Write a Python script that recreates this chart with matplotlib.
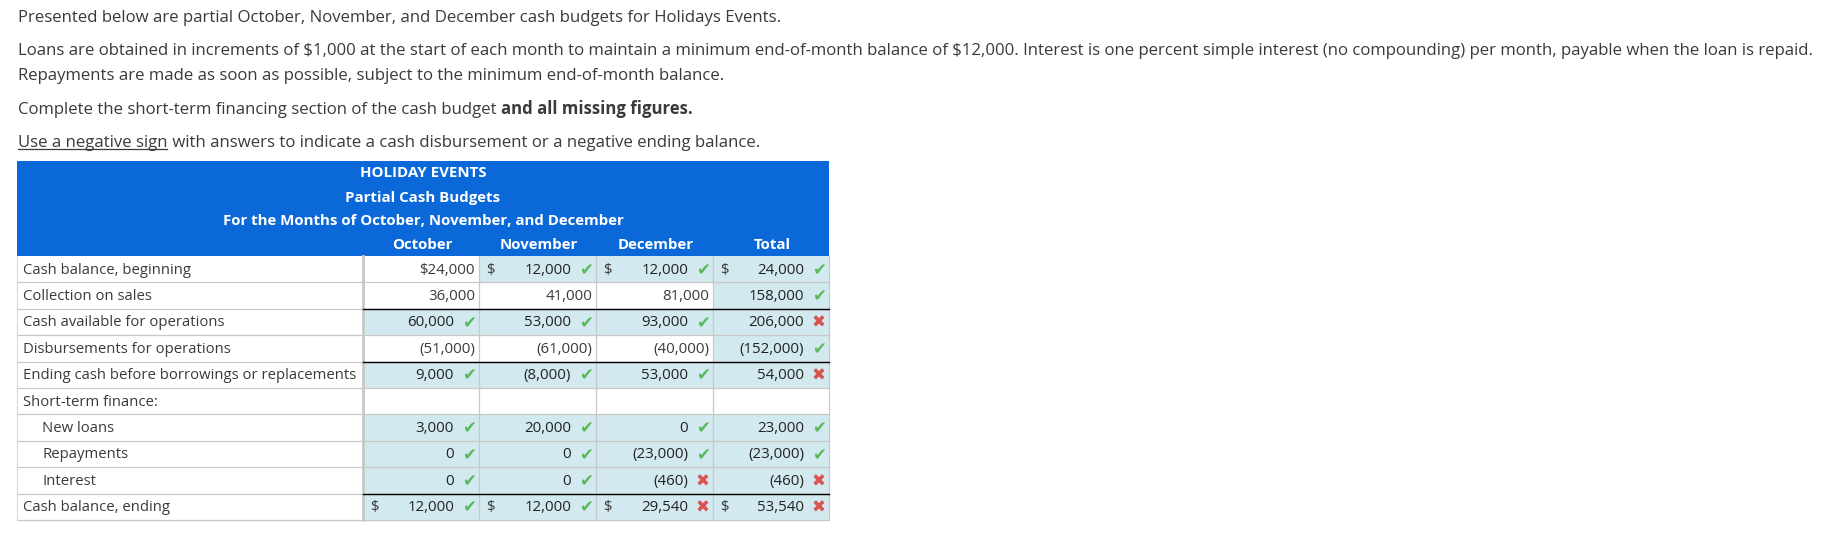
import matplotlib.pyplot as plt
from matplotlib.patches import Rectangle

plt.rcParams['font.family'] = ['Open Sans', 'DejaVu Sans']

labels = ["Cash balance, beginning", "Collection on sales", "Cash available for operations",
          "Disbursements for operations", "Ending cash before borrowings or replacements",
          "Short-term finance:", "New loans", "Repayments", "Interest", "Cash balance, ending"]
months = ["October", "November", "December", "Total"]
october = ["$24,000", "36,000", "60,000", "(51,000)", "9,000", "", "3,000", "0", "0", "12,000"]
november = ["12,000", "41,000", "53,000", "(61,000)", "(8,000)", "", "20,000", "0", "0", "12,000"]
december = ["12,000", "81,000", "93,000", "(40,000)", "53,000", "", "0", "(23,000)", "(460)", "29,540"]
total = ["24,000", "158,000", "206,000", "(152,000)", "54,000", "", "23,000", "(23,000)", "(460)", "53,540"]
# y = right, x = wrong, blank = given figure
oct_mark = ["", "", "y", "", "y", "", "y", "y", "y", "y"]
nov_mark = ["y", "", "y", "", "y", "", "y", "y", "y", "y"]
dec_mark = ["y", "", "y", "", "y", "", "y", "y", "x", "x"]
tot_mark = ["y", "y", "x", "y", "x", "", "y", "y", "x", "x"]
dollars = [[False, True, True, True]] + [[False] * 4] * 8 + [[True] * 4]
indented = ["New loans", "Repayments", "Interest"]

col_edges = [363, 479, 596, 713, 829]
row_h = 26.4
top = 256
left = 17

fig = plt.figure(figsize=(18.29, 5.55), dpi=100)
ax = fig.add_axes([0, 0, 1, 1])
ax.set_xlim(0, 1829)
ax.set_ylim(555, 0)
ax.axis("off")

dark = "#3a3a3a"
size = 12.06
tsize = 10.85


def after(t):
    # x where the next run of text starts on the same line
    return t.get_window_extent(fig.canvas.get_renderer()).x1


ax.text(18, 22, "Presented below are partial October, November, and December cash budgets for Holidays Events.", fontsize=size, color=dark, va="baseline")
ax.text(18, 55, r"Loans are obtained in increments of \$1,000 at the start of each month to maintain a minimum end-of-month balance of \$12,000. Interest is one percent simple interest (no compounding) per month, payable when the loan is repaid.", fontsize=size, color=dark, va="baseline")
ax.text(18, 79.5, "Repayments are made as soon as possible, subject to the minimum end-of-month balance.", fontsize=size, color=dark, va="baseline")
t = ax.text(18, 113.5, "Complete the short-term financing section of the cash budget ", fontsize=size, color=dark, va="baseline")
ax.text(after(t), 113.5, "and all missing figures.", fontsize=size, color=dark, fontweight="bold", va="baseline")
t = ax.text(18, 147, "Use a negative sign", fontsize=size, color=dark, va="baseline")
ax.plot([18, 167], [148.5, 148.5], color=dark, lw=0.9)
ax.text(after(t), 147, " with answers to indicate a cash disbursement or a negative ending balance.", fontsize=size, color=dark, va="baseline")

# header block
ax.add_patch(Rectangle((left, 161), col_edges[-1] - left, top - 161, color="#0b68d9", lw=0))
for y, s in zip([173, 198, 221], ["HOLIDAY EVENTS", "Partial Cash Budgets", "For the Months of October, November, and December"]):
    ax.text(423, y, s, color="white", fontsize=tsize, fontweight="bold", ha="center", va="center")
for i, m in enumerate(months):
    ax.text((col_edges[i] + col_edges[i + 1]) / 2 + 1, 245, m, color="white", fontsize=tsize, fontweight="bold", ha="center", va="center")

columns = [october, november, december, total]
marks = [oct_mark, nov_mark, dec_mark, tot_mark]
for r, label in enumerate(labels):
    y0 = top + r * row_h
    ymid = y0 + row_h / 2 + 1
    x = 42 if label in indented else 23
    ax.text(x, ymid, label, fontsize=tsize - 0.1, color=dark, va="center")
    ax.plot([left, col_edges[-1]], [y0 + row_h] * 2, color="#c8c8c8", lw=0.9, zorder=2)
    for c in range(4):
        x0, x1 = col_edges[c], col_edges[c + 1]
        m = marks[c][r]
        if m:
            ax.add_patch(Rectangle((x0, y0), x1 - x0, row_h, color="#d3e9f0", lw=0, zorder=1))
            ax.text(x1 - 25, ymid, columns[c][r], fontsize=tsize, color="#222222", ha="right", va="center")
            ax.text(x1 - 17, ymid, "\u2714" if m == "y" else "\u2716", fontsize=12, family="DejaVu Sans",
                    color="#5cb85c" if m == "y" else "#d9534f", ha="left", va="center")
        else:
            ax.text(x1 - 4, ymid, columns[c][r], fontsize=tsize, color=dark, ha="right", va="center")
        if dollars[r][c]:
            ax.text(x0 + 7, ymid, "$", fontsize=tsize, color=dark, va="center")

for x in col_edges[1:]:
    ax.plot([x, x], [top, top + 10 * row_h], color="#c8c8c8", lw=0.9, zorder=2)
ax.plot([col_edges[0]] * 2, [top, top + 10 * row_h], color="#c8c8c8", lw=2.0, zorder=2)
ax.plot([left, left], [top, top + 10 * row_h], color="#d8d8d8", lw=0.8, zorder=2)
# subtotal rules
for r in [2, 4, 9]:
    ax.plot([col_edges[0], col_edges[-1]], [top + r * row_h] * 2, color="black", lw=1.0, zorder=3)

fig.savefig("out.png", dpi=100)
